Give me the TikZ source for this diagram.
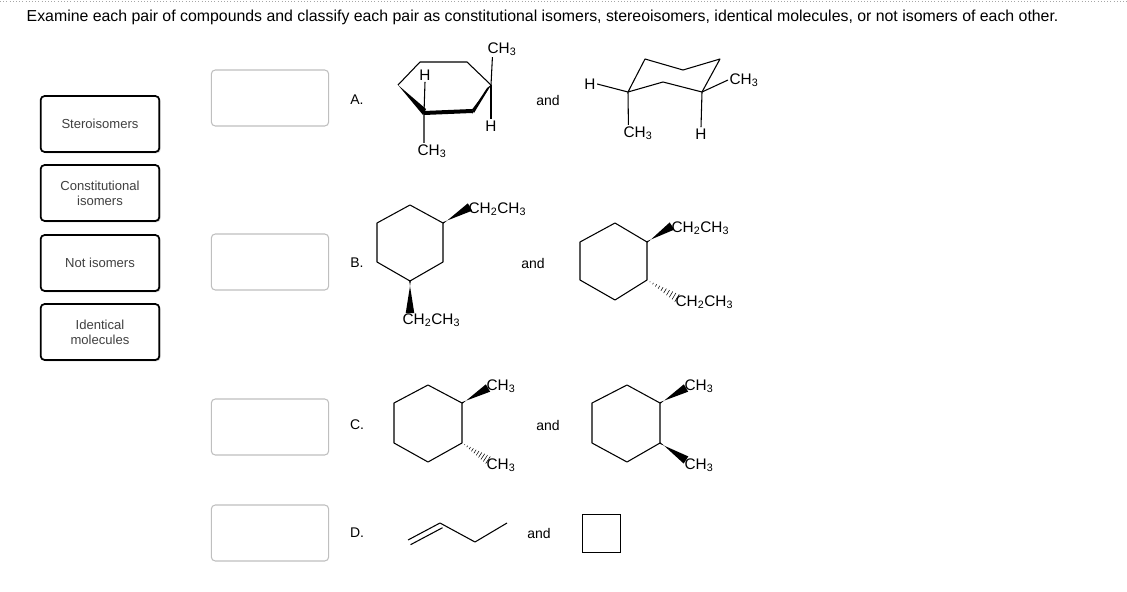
\documentclass[tikz,border=0pt]{standalone}
\usepackage{fontspec}
\setmainfont{Liberation Sans}
\usetikzlibrary{calc,shadows}
\newcommand\wedgeb[2]{\fill ($(#1)!0.6pt!90:(#2)$) -- ($(#2)!3.2pt!90:(#1)$) -- ($(#2)!3.2pt!-90:(#1)$) -- ($(#1)!0.6pt!-90:(#2)$) -- cycle;}
\newcommand\hashb[2]{\foreach \t in {0.1,0.2,...,1.0}{\coordinate (hp) at ($(#1)!\t!(#2)$); \draw[line width=0.4pt] ($(hp)!{\t*3.2pt}!90:(#2)$) -- ($(hp)!{\t*3.2pt}!-90:(#2)$);}}
\begin{document}
\begin{tikzpicture}[x=0.75pt,y=-0.75pt,
  choice/.style={draw=black,fill=white,line width=1.3pt,rounded corners=3pt,minimum width=89pt,minimum height=42pt,align=center,font=\fontsize{9.8}{11.5}\selectfont,text=black!75,drop shadow={shadow xshift=1pt,shadow yshift=-1pt,opacity=0.35}},
  slot/.style={draw=black!25,line width=0.8pt,rounded corners=3pt,minimum width=88pt,minimum height=42pt},
  lbl/.style={font=\fontsize{10.5}{12}\selectfont},
  grp/.style={font=\fontsize{11.5}{13}\selectfont,inner sep=1pt},
  bond/.style={line width=0.8pt,line join=round}]
\useasboundingbox (0,0) rectangle (1127,592);
\draw[black!35,dotted] (0,1) -- (1127,1);
\node[anchor=west,font=\fontsize{11.9}{13}\selectfont] (title) at (22,17) {Examine each pair of compounds and classify each pair as constitutional isomers, stereoisomers, identical molecules, or not isomers of each other.};
% choices
\node[choice] (c1) at (100,124) {Steroisomers};
\node[choice] (c2) at (100,193) {Constitutional\\isomers};
\node[choice] (c3) at (100,263) {Not isomers};
\node[choice] (c4) at (100,332) {Identical\\molecules};
% slots
\node[slot] (s1) at (270,98) {};
\node[slot] (s2) at (270,262) {};
\node[slot] (s3) at (270,427) {};
\node[slot] (s4) at (270,533) {};
\node[lbl] (la) at (357,100) {A.};
\node[lbl] (lb) at (357,263) {B.};
\node[lbl] (lc) at (357,425) {C.};
\node[lbl] (ld) at (357,533) {D.};
\node[lbl] (aa) at (548,100) {and};
\node[lbl] (ab) at (533,263) {and};
\node[lbl] (ac) at (548,425) {and};
\node[lbl] (ad) at (539,533) {and};
% ---- A left
\coordinate (a1) at (420,62); \coordinate (a2) at (467,62); \coordinate (a3) at (491,85);
\coordinate (a4) at (472,111); \coordinate (a5) at (424,113); \coordinate (a6) at (398,85);
\draw[bond] (a6) -- (a1) -- (a2) -- (a3);
\fill (a6) -- ($(a5)+(2,-4)$) -- ($(a5)+(-1,2)$) -- cycle;
\draw[line width=3pt] (a5) -- (a4);
\fill (a4) -- ($(a4)+(0,3)$) -- (a3) -- ($(a3)+(-4,3)$) -- cycle;
\fill ($(a4)+(0,-1.5)$) -- ($(a3)$) -- ($(a4)+(2,2)$) -- cycle;
\node[grp] (ah1) at (425,75) {H};
\node[grp] (ac1) at (432,151) {CH\textsubscript{3}};
\node[grp] (ac2) at (502,49) {CH\textsubscript{3}};
\node[grp] (ah2) at (491,126) {H};
\draw[bond] (a5) -- (ah1.south);
\draw[bond] (a5) -- ($(ac1.north west)!0.25!(ac1.north east)$);
\draw[bond] (a3) -- ($(ac2.south west)!0.2!(ac2.south east)$);
\draw[bond] (a3) -- (ah2.north);
% ---- A right
\coordinate (b1) at (628,92); \coordinate (b2) at (645,59); \coordinate (b3) at (683,70);
\coordinate (b4) at (720,59); \coordinate (b5) at (702,92); \coordinate (b6) at (663,82);
\draw[bond] (b1) -- (b2) -- (b3) -- (b4) -- (b5) -- (b6) -- cycle;
\node[grp] (bh1) at (590,84) {H};
\node[grp] (bc1) at (638,133) {CH\textsubscript{3}};
\node[grp,anchor=west] (bc2) at (728,80) {CH\textsubscript{3}};
\node[grp] (bh2) at (701,134) {H};
\draw[bond] (b1) -- (bh1.east);
\draw[bond] (b1) -- ($(bc1.north west)!0.2!(bc1.north east)$);
\draw[bond] (b5) -- (bc2.west);
\draw[bond] (b5) -- (bh2.north);
% ---- B left
\coordinate (c1a) at (410,205); \coordinate (c2a) at (443,223); \coordinate (c3a) at (443,262);
\coordinate (c4a) at (410,281); \coordinate (c5a) at (377,262); \coordinate (c6a) at (377,223);
\draw[bond] (c1a) -- (c2a) -- (c3a) -- (c4a) -- (c5a) -- (c6a) -- cycle;
\coordinate (bl1e) at (470,207); \coordinate (bl2e) at (410,313);
\node[grp,anchor=west] (bl1) at (467,209) {CH\textsubscript{2}CH\textsubscript{3}};
\node[grp,anchor=north west] (bl2) at (401,312) {CH\textsubscript{2}CH\textsubscript{3}};
\wedgeb{c2a}{bl1e}
\wedgeb{c4a}{bl2e}
% ---- B right
\coordinate (d1) at (615,223); \coordinate (d2) at (647,242); \coordinate (d3) at (647,280);
\coordinate (d4) at (615,300); \coordinate (d5) at (580,280); \coordinate (d6) at (580,242);
\draw[bond] (d1) -- (d2) -- (d3) -- (d4) -- (d5) -- (d6) -- cycle;
\coordinate (br1e) at (672,226); \coordinate (br2e) at (677,298);
\node[grp,anchor=west] (br1) at (670,228) {CH\textsubscript{2}CH\textsubscript{3}};
\node[grp,anchor=west] (br2) at (674,302) {CH\textsubscript{2}CH\textsubscript{3}};
\wedgeb{d2}{br1e}
\hashb{d3}{br2e}
% ---- C left
\coordinate (e1) at (428,385); \coordinate (e2) at (462,403); \coordinate (e3) at (462,443);
\coordinate (e4) at (428,462); \coordinate (e5) at (394,443); \coordinate (e6) at (394,403);
\draw[bond] (e1) -- (e2) -- (e3) -- (e4) -- (e5) -- (e6) -- cycle;
\coordinate (cl1e) at (488,388); \coordinate (cl2e) at (488,460);
\node[grp,anchor=west] (cl1) at (485,386) {CH\textsubscript{3}};
\node[grp,anchor=west] (cl2) at (485,465) {CH\textsubscript{3}};
\wedgeb{e2}{cl1e}
\hashb{e3}{cl2e}
% ---- C right
\coordinate (f1) at (627,385); \coordinate (f2) at (660,403); \coordinate (f3) at (660,443);
\coordinate (f4) at (627,462); \coordinate (f5) at (592,443); \coordinate (f6) at (592,403);
\draw[bond] (f1) -- (f2) -- (f3) -- (f4) -- (f5) -- (f6) -- cycle;
\coordinate (cr1e) at (686,388); \coordinate (cr2e) at (686,460);
\node[grp,anchor=west] (cr1) at (683,386) {CH\textsubscript{3}};
\node[grp,anchor=west] (cr2) at (683,465) {CH\textsubscript{3}};
\wedgeb{f2}{cr1e}
\wedgeb{f3}{cr2e}
% ---- D
\coordinate (g1) at (408,540); \coordinate (g2) at (440,523); \coordinate (g3) at (475,542); \coordinate (g4) at (507,523);
\draw[bond] (g1) -- (g2) -- (g3) -- (g4);
\draw[bond] ($(g1)!4pt!-90:(g2)$) -- ($(g2)!4pt!90:(g1)$);
\node[draw,line width=0.8pt,minimum width=29pt,minimum height=29pt,inner sep=0] (sq) at (601.5,533.5) {};
\end{tikzpicture}
\end{document}
